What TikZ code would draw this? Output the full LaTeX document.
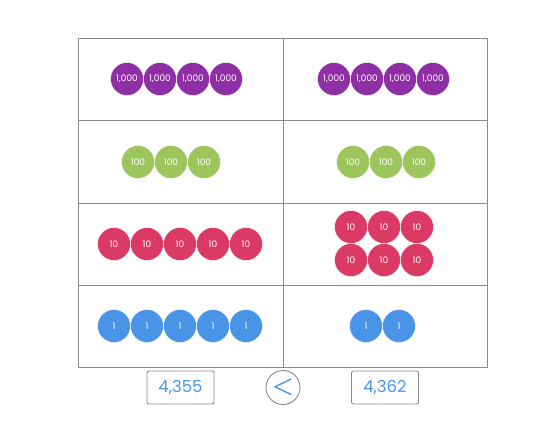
\documentclass[tikz,border=0pt]{standalone}
\usepackage{fontspec}
\setmainfont{Poppins}
\usepackage{tikz}
\usetikzlibrary{calc}
\usetikzlibrary{shapes}
\definecolor{thcol}{HTML}{8E2FA6}
\definecolor{hucol}{HTML}{9CC55C}
\definecolor{tecol}{HTML}{DB3A64}
\definecolor{oncol}{HTML}{4A94E8}
\definecolor{gridcol}{HTML}{8A8A8A}
\tikzset{coin/.style={circle,fill=#1,draw=white,line width=0.4pt,minimum size=33pt,inner sep=0pt,text=white,font=\fontsize{9}{9}\selectfont},
  numbox/.style={draw=gridcol,rounded corners=2pt,line width=0.9pt,minimum width=67pt,minimum height=33pt,text=oncol,font=\fontsize{16.5}{16.5}\selectfont}}
\newcommand{\coinrow}[6]{\foreach \k in {1,...,#5} {\node[coin=#4] (#1-\k) at ($(#2,#3)+(\k*33-33,0)$) {#6};}}

\begin{document}
\begin{tikzpicture}[x=1pt,y=-1pt]
    \useasboundingbox (0,0) rectangle (560,440);
    % table
    \draw[gridcol,line width=1pt] (78,38) rectangle (487,367);
    \draw[gridcol,line width=1pt] (283,38) -- (283,367);
    \foreach \yy in {120,203,285} {
        \draw[gridcol,line width=1pt] (78,\yy) -- (487,\yy);}
    %coins
    \coinrow{thl}{127}{79}{thcol}{4}{1,000}
    \coinrow{thr}{334}{79}{thcol}{4}{1,000}
    \coinrow{hul}{138}{162}{hucol}{3}{100}
    \coinrow{hur}{353}{162}{hucol}{3}{100}
    \coinrow{tel}{114}{244}{tecol}{5}{10}
    \coinrow{tera}{351}{227}{tecol}{3}{10}
    \coinrow{terb}{351}{260}{tecol}{3}{10}
    \coinrow{onl}{114}{326}{oncol}{5}{1}
    \coinrow{onr}{366}{326}{oncol}{2}{1}
    %compare
    \node[numbox] (left) at (180.5,387.5) {4,355};
    \node[numbox] (right) at (385,387.5) {4,362};
    \node[circle,draw=gridcol,line width=0.9pt,minimum size=34pt,inner sep=0pt,text=oncol,font=\fontsize{27}{27}\selectfont\boldmath] (sign) at (283,387.5) {$<$};
\end{tikzpicture}
\end{document}
